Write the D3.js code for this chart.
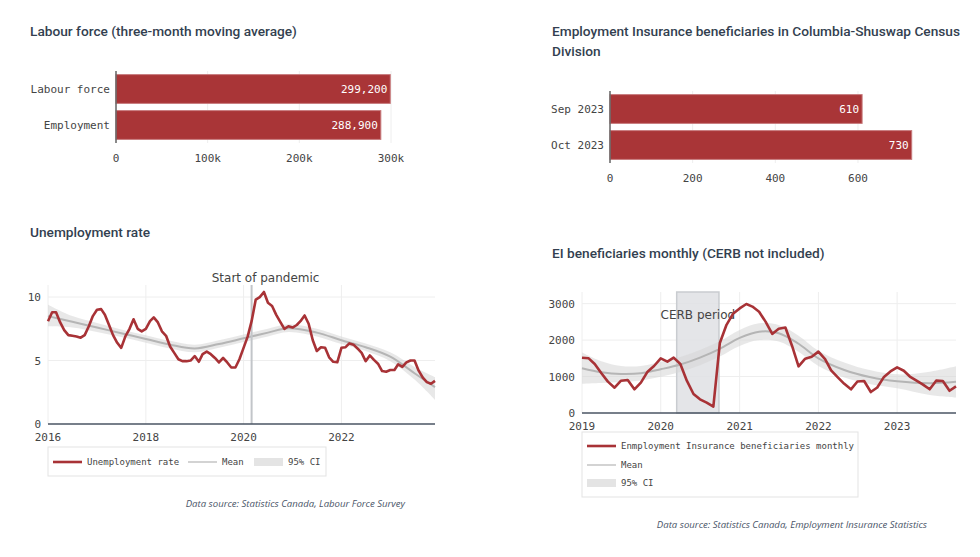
<!DOCTYPE html>
<head>
    <meta charset="utf-8">
    <title>Labour market</title>
    <script src="https://d3js.org/d3.v7.min.js"></script>
    <style>
        body { margin: 0; background: #fff; }
        .title { font-family: Roboto, sans-serif; font-weight: 500; font-size: 13.7px; fill: #333f50; }
        .tick-text { font-family: "DejaVu Sans Mono", monospace; font-size: 11px; fill: #444; }
        .legend-text { font-family: "DejaVu Sans Mono", monospace; font-size: 9px; fill: #444; }
        .note { font-family: "Open Sans", sans-serif; font-style: italic; font-size: 9.6px; fill: #4a5568; }
        .annot { font-family: "DejaVu Sans", sans-serif; font-size: 12px; fill: #444; }
    </style>
</head>
<body>
<script>
    // ---- data ----
    var labourCats = ["Labour force", "Employment"],
        labourVals = [299200, 288900];

    var eiCats = ["Sep 2023", "Oct 2023"],
        eiVals = [610, 730];

    // unemployment rate, monthly from Jan 2016
    var unempStart = "2016-01";
    var unempVals = [8.1, 8.8, 8.8, 8.0, 7.4, 7.0, 6.95, 6.9, 6.8, 7.0, 7.7, 8.5,
        9.0, 9.05, 8.6, 7.8, 7.0, 6.4, 6.0, 6.9, 7.5, 8.25, 7.5, 7.3,
        7.5, 8.1, 8.4, 8.0, 7.3, 6.95, 6.1, 5.6, 5.1, 4.95, 4.95, 5.0,
        5.35, 4.9, 5.5, 5.7, 5.5, 5.2, 4.85, 5.2, 4.85, 4.45, 4.45, 5.1,
        6.0, 6.9, 8.1, 9.8, 10.0, 10.4, 9.55, 9.3, 8.6, 8.05, 7.5, 7.7,
        7.6, 7.8, 8.1, 8.55, 7.9, 6.6, 5.75, 6.05, 6.0, 5.25, 4.9, 4.86,
        6.0, 6.05, 6.35, 6.25, 5.95, 5.6, 4.95, 5.4, 5.05, 4.75, 4.17, 4.12,
        4.25, 4.25, 4.7, 4.5, 4.85, 5.0, 5.0, 4.2, 3.65, 3.3, 3.17, 3.4];
    var unempMeanDates = ["2016-01", "2016-07", "2017-01", "2017-07", "2018-01", "2018-07", "2019-01", "2019-07",
        "2020-01", "2020-07", "2020-12", "2021-07", "2022-01", "2022-07", "2023-01", "2023-07", "2023-12"];
    var unempMean = [8.5, 8.05, 7.6, 7.15, 6.7, 6.25, 5.95, 6.3, 6.75, 7.2, 7.55, 7.2, 6.6, 6.05, 5.3, 4.0, 2.9];
    var unempLo = [7.7, 7.6, 7.25, 6.85, 6.4, 5.95, 5.65, 6.0, 6.45, 6.9, 7.25, 6.9, 6.3, 5.75, 4.95, 3.5, 1.9];
    var unempHi = [9.4, 8.5, 7.95, 7.45, 7.0, 6.55, 6.25, 6.6, 7.05, 7.5, 7.85, 7.5, 6.9, 6.35, 5.65, 4.5, 3.7];
    var pandemicDate = "2020-03";

    // EI beneficiaries, monthly from Jan 2019
    var eiStart = "2019-01";
    var eiMonthly = [1518, 1500, 1345, 1090, 860, 695, 887, 906, 650, 832, 1134, 1290,
        1500, 1408, 1518, 1345, 887, 522, 375, 283, 173, 1920, 2420, 2720,
        2870, 2990, 2920, 2780, 2506, 2170, 2310, 2345, 1840, 1280, 1490, 1545,
        1683, 1480, 1170, 980, 800, 650, 865, 878, 575, 700, 990, 1140,
        1254, 1160, 1000, 890, 780, 650, 887, 878, 610, 730];
    var eiMeanDates = ["2019-01", "2019-04", "2019-07", "2019-10", "2020-01", "2020-04", "2020-07", "2020-10", "2021-01",
        "2021-04", "2021-07", "2021-10", "2022-01", "2022-05", "2022-09", "2023-01", "2023-06", "2023-10"];
    var eiMean = [1230, 1120, 1070, 1090, 1200, 1330, 1520, 1760, 2060, 2230, 2190, 1900, 1500, 1180, 980, 870, 815, 855];
    var eiLo = [800, 820, 850, 890, 995, 1125, 1310, 1550, 1840, 2000, 1965, 1680, 1290, 975, 790, 680, 495, 425];
    var eiHi = [1660, 1420, 1290, 1290, 1405, 1535, 1730, 1970, 2280, 2460, 2415, 2120, 1710, 1385, 1170, 1060, 1135, 1285];
    var cerbStart = "2020-03-15", cerbEnd = "2020-09-27";

    var red = "#a83236", barRed = "#a93537";
    var parseM = d3.timeParse("%Y-%m"), parseD = d3.timeParse("%Y-%m-%d");

    var svg = d3.select("body").append("svg")
        .attr("width", 980)
        .attr("height", 557);

    /* BAR CHARTS */
    function barChart(opt) {
        var g = svg.append("g");
        var x = d3.scaleLinear().domain(opt.domain).range([opt.left, opt.right]);
        var y = d3.scaleBand().domain(opt.cats).range([opt.top, opt.bottom])
            .paddingInner(0.2).paddingOuter(0.1);

        g.selectAll(".grid").data(opt.ticks).enter().append("line")
            .attr("x1", x).attr("x2", x)
            .attr("y1", opt.top).attr("y2", opt.bottom)
            .style("stroke", "#eee");

        g.selectAll(".bar").data(opt.vals).enter().append("rect")
            .attr("x", x(0))
            .attr("y", function (d, i) { return y(opt.cats[i]); })
            .attr("width", function (d) { return x(d) - x(0); })
            .attr("height", y.bandwidth())
            .attr("fill", barRed)
            .attr("stroke", "#c77b7d")
            .attr("stroke-width", 1);

        g.selectAll(".val").data(opt.vals).enter().append("text")
            .attr("class", "tick-text")
            .attr("x", function (d) { return x(d) - 3; })
            .attr("y", function (d, i) { return y(opt.cats[i]) + y.bandwidth() / 2 + 4; })
            .attr("text-anchor", "end")
            .style("fill", "#fff")
            .text(function (d) { return d3.format(",")(d); });

        g.append("line")
            .attr("x1", x(0)).attr("x2", x(0))
            .attr("y1", opt.top).attr("y2", opt.bottom)
            .style("stroke", "#666").style("stroke-width", 1.5);

        g.selectAll(".cat").data(opt.cats).enter().append("text")
            .attr("class", "tick-text")
            .attr("x", x(0) - 6)
            .attr("y", function (d) { return y(d) + y.bandwidth() / 2 + 4; })
            .attr("text-anchor", "end")
            .text(function (d) { return d; });

        g.selectAll(".xt").data(opt.ticks).enter().append("text")
            .attr("class", "tick-text")
            .attr("x", x)
            .attr("y", opt.bottom + 19)
            .attr("text-anchor", "middle")
            .text(opt.fmt);
    }

    barChart({
        cats: labourCats, vals: labourVals,
        domain: [0, 315000], left: 116, right: 116 + 315000 * 275 / 300000,
        top: 71, bottom: 143, ticks: [0, 100000, 200000, 300000],
        fmt: function (d) { return d === 0 ? "0" : d / 1000 + "k"; }
    });

    barChart({
        cats: eiCats, vals: eiVals,
        domain: [0, 768], left: 610, right: 610 + 768 * 0.4133,
        top: 91, bottom: 163, ticks: [0, 200, 400, 600],
        fmt: function (d) { return d; }
    });

    /* LINE CHARTS */
    function lineChart(opt) {
        var g = svg.append("g");
        var x = d3.scaleTime().domain(opt.xDomain).range([opt.left, opt.right]);
        var y = d3.scaleLinear().domain(opt.yDomain).range([opt.bottom, opt.top]);

        g.selectAll(".vg").data(opt.xTicks).enter().append("line")
            .attr("x1", x).attr("x2", x)
            .attr("y1", opt.top).attr("y2", opt.bottom)
            .style("stroke", "#eee");
        g.selectAll(".hg").data(opt.yTicks.slice(1)).enter().append("line")
            .attr("x1", opt.left).attr("x2", opt.right)
            .attr("y1", y).attr("y2", y)
            .style("stroke", "#eee");

        if (opt.before) opt.before(g, x, y);

        var band = d3.area()
            .x(function (d) { return x(d.date); })
            .y0(function (d) { return y(d.lo); })
            .y1(function (d) { return y(d.hi); })
            .curve(d3.curveCatmullRom);
        g.append("path").datum(opt.smooth)
            .attr("d", band)
            .attr("fill", "#d6d6d6").attr("fill-opacity", 0.55);

        g.append("path").datum(opt.smooth)
            .attr("d", d3.line().x(function (d) { return x(d.date); })
                .y(function (d) { return y(d.mean); }).curve(d3.curveCatmullRom))
            .attr("fill", "none").style("stroke", "#b5b5b5").style("stroke-width", 2);

        if (opt.middle) opt.middle(g, x, y);

        g.append("path").datum(opt.series)
            .attr("d", d3.line().x(function (d) { return x(d.date); })
                .y(function (d) { return y(d.value); }))
            .attr("fill", "none").style("stroke", red).style("stroke-width", 2.6)
            .style("stroke-linejoin", "round");

        g.append("line")
            .attr("x1", opt.left).attr("x2", opt.right)
            .attr("y1", opt.bottom).attr("y2", opt.bottom)
            .style("stroke", "#4a5563").style("stroke-width", 1.5);

        g.selectAll(".yt").data(opt.yTicks).enter().append("text")
            .attr("class", "tick-text")
            .attr("x", opt.left - 7)
            .attr("y", function (d) { return y(d) + 4; })
            .attr("text-anchor", "end")
            .text(function (d) { return d; });

        g.selectAll(".xt").data(opt.xTicks).enter().append("text")
            .attr("class", "tick-text")
            .attr("x", x)
            .attr("y", opt.bottom + 17)
            .attr("text-anchor", "middle")
            .text(d3.timeFormat("%Y"));

        // legend
        var lg = g.append("g").attr("transform", "translate(" + opt.legend.x + "," + opt.legend.y + ")");
        lg.append("rect")
            .attr("width", opt.legend.w).attr("height", opt.legend.h)
            .attr("fill", "#fff").style("stroke", "#e3e3e3");
        opt.legend.items.forEach(function (it) {
            if (it.type === "band") {
                lg.append("rect").attr("x", it.x + 5).attr("y", it.y - 4)
                    .attr("width", 29).attr("height", 8).attr("fill", "#e4e4e4");
            } else {
                lg.append("line").attr("x1", it.x + 5).attr("x2", it.x + 34)
                    .attr("y1", it.y).attr("y2", it.y)
                    .style("stroke", it.color).style("stroke-width", it.width);
            }
            lg.append("text").attr("class", "legend-text")
                .attr("x", it.x + 39).attr("y", it.y + 3)
                .text(it.label);
        });
    }

    function monthly(start, vals) {
        var s = parseM(start);
        return vals.map(function (v, i) { return { date: d3.timeMonth.offset(s, i), value: v }; });
    }
    function smoothRows(dates, mean, lo, hi) {
        return dates.map(function (d, i) { return { date: parseM(d), mean: mean[i], lo: lo[i], hi: hi[i] }; });
    }

    var unempSeries = monthly(unempStart, unempVals);
    lineChart({
        series: unempSeries,
        smooth: smoothRows(unempMeanDates, unempMean, unempLo, unempHi),
        xDomain: [unempSeries[0].date, unempSeries[unempSeries.length - 1].date],
        yDomain: [0, 10.95], left: 48, right: 435, top: 285, bottom: 424,
        yTicks: [0, 5, 10],
        xTicks: [2016, 2018, 2020, 2022].map(function (yr) { return new Date(yr, 0, 1); }),
        middle: function (g, x, y) {
            var px = x(parseM(pandemicDate));
            g.append("line").attr("x1", px).attr("x2", px)
                .attr("y1", 285).attr("y2", 424)
                .style("stroke", "#c2c5c9").style("stroke-width", 2);
            g.append("text").attr("class", "annot")
                .attr("x", px + 14).attr("y", 282)
                .attr("text-anchor", "middle")
                .text("Start of pandemic");
        },
        legend: {
            x: 48, y: 447, w: 278, h: 29,
            items: [
                { x: 0, y: 15, color: red, width: 2.6, label: "Unemployment rate" },
                { x: 135, y: 15, color: "#c4c4c4", width: 1.5, label: "Mean" },
                { x: 201, y: 15, type: "band", label: "95% CI" }
            ]
        }
    });

    var eiSeries = monthly(eiStart, eiMonthly);
    lineChart({
        series: eiSeries,
        smooth: smoothRows(eiMeanDates, eiMean, eiLo, eiHi),
        xDomain: [eiSeries[0].date, eiSeries[eiSeries.length - 1].date],
        yDomain: [0, 3320], left: 582, right: 956, top: 292, bottom: 413,
        yTicks: [0, 1000, 2000, 3000],
        xTicks: [2019, 2020, 2021, 2022, 2023].map(function (yr) { return new Date(yr, 0, 1); }),
        before: function (g, x, y) {
            var x0 = x(parseD(cerbStart)), x1 = x(parseD(cerbEnd));
            g.append("rect").attr("x", x0).attr("y", 292)
                .attr("width", x1 - x0).attr("height", 121)
                .attr("fill", "#dfe1e4").attr("fill-opacity", 0.85)
                .style("stroke", "#c9ccd0").style("stroke-width", 1.5);
        },
        middle: function (g, x, y) {
            var x0 = x(parseD(cerbStart)), x1 = x(parseD(cerbEnd));
            g.append("text").attr("class", "annot")
                .attr("x", (x0 + x1) / 2).attr("y", 319)
                .attr("text-anchor", "middle")
                .text("CERB period");
        },
        legend: {
            x: 582, y: 432, w: 276, h: 65,
            items: [
                { x: 0, y: 14, color: red, width: 2.6, label: "Enmployment Insurance beneficiaries monthly" },
                { x: 0, y: 33, color: "#c4c4c4", width: 1.5, label: "Mean" },
                { x: 0, y: 51, type: "band", label: "95% CI" }
            ]
        }
    });

    /* TITLES */
    svg.append("text").attr("class", "title").attr("x", 30).attr("y", 36)
        .text("Labour force (three-month moving average)");
    svg.append("text").attr("class", "title").attr("x", 552).attr("y", 36)
        .text("Employment Insurance beneficiaries in Columbia-Shuswap Census");
    svg.append("text").attr("class", "title").attr("x", 552).attr("y", 56)
        .text("Division");
    svg.append("text").attr("class", "title").attr("x", 30).attr("y", 237)
        .text("Unemployment rate");
    svg.append("text").attr("class", "title").attr("x", 552).attr("y", 258)
        .text("EI beneficiaries monthly (CERB not included)");

    svg.append("text").attr("class", "note").attr("x", 405).attr("y", 507)
        .attr("text-anchor", "end")
        .text("Data source: Statistics Canada, Labour Force Survey");
    svg.append("text").attr("class", "note").attr("x", 927).attr("y", 528)
        .attr("text-anchor", "end")
        .text("Data source: Statistics Canada, Employment Insurance Statistics");
</script>
</body>
</html>
